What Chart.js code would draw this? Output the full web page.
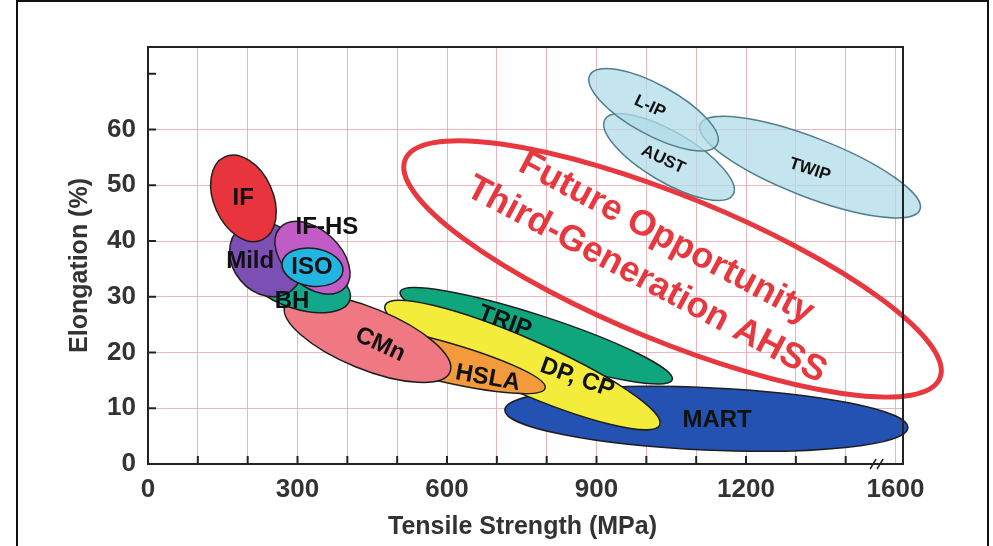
<!DOCTYPE html>
<html>
<head>
<meta charset="utf-8">
<script src="https://cdn.jsdelivr.net/npm/chart.js@4"></script>
<style>
  html, body { margin: 0; padding: 0; background: #fff; }
  #wrap { width: 993px; height: 546px; position: relative; }
</style>
</head>
<body>
<div id="wrap"><canvas id="steelChart"></canvas></div>
<script>
// === Data ===
// each region: major axis from (x1,y1) to (x2,y2) in MPa / %, half width in %
const regionNames = ["MART", "TRIP", "DP, CP", "HSLA", "CMn", "BH", "Mild", "IF-HS", "ISO", "IF", "TWIP", "AUST", "L-IP"];
const regionX1 = [716, 506, 476, 305, 275, 201, 185, 265, 269, 154, 1108, 917, 887];
const regionY1 = [9.7, 30.9, 28.5, 25.0, 28.5, 35.2, 42.4, 42.4, 36.1, 55.1, 60.9, 61.8, 69.8];
const regionX2 = [1525, 1052, 1027, 797, 606, 405, 289, 395, 391, 229, 1549, 1174, 1142];
const regionY2 = [6.5, 15.1, 7.0, 13.6, 16.5, 29.4, 31.2, 31.6, 34.5, 40.2, 45.6, 48.3, 57.3];
const regionHalfWidth = [5.6, 3.7, 4.8, 3.6, 5.5, 4.5, 6.0, 5.0, 3.4, 5.3, 5.3, 4.5, 4.5];

// future third-generation band
const futureX = [516, 1589];
const futureY = [54.6, 15.4];
const futureHalfWidth = 13;

// label anchors
const labelTexts = ["IF", "IF-HS", "Mild", "ISO", "BH", "CMn", "HSLA", "TRIP", "DP, CP", "MART", "L-IP", "AUST", "TWIP"];
const labelX = [191, 359, 205, 329, 289, 466, 682, 716, 861, 1142, 1007, 1034, 1328];
const labelY = [47.6, 42.4, 36.3, 35.2, 29.1, 21.4, 15.4, 25.5, 15.4, 7.9, 64.1, 54.6, 52.8];
const labelAngle = [0, 0, 0, 0, 0, 25, 10, 20, 20, 0, 25, 25, 18];
const futureLines = ["Future Opportunity", "Third-Generation AHSS"];
const futureLineX = [1040, 1000];
const futureLineY = [40.5, 33.0];

const xTickValues = [0, 100, 200, 300, 400, 500, 600, 700, 800, 900, 1000, 1100, 1200, 1300, 1400, 1500];
const xTickLabels = { 0: "0", 300: "300", 600: "600", 900: "900", 1200: "1200", 1500: "1600" };

// === Styles ===
const fills = {
  "MART": "#2452b3", "TRIP": "#10a67d", "DP, CP": "#f3ec3a", "HSLA": "#f29a3c",
  "CMn": "#f07883", "BH": "#14a88b", "Mild": "#7b4fb4", "IF-HS": "#c15bc6",
  "ISO": "#22b5e2", "IF": "#e8343d",
  "TWIP": "rgba(178,220,232,0.75)", "AUST": "rgba(178,220,232,0.75)", "L-IP": "rgba(178,220,232,0.75)"
};
const smallLabels = ["L-IP", "AUST", "TWIP"];

function ellipsePath(ctx, xs, ys, x1, y1, x2, y2, hw) {
  const p1x = xs.getPixelForValue(x1), p1y = ys.getPixelForValue(y1);
  const p2x = xs.getPixelForValue(x2), p2y = ys.getPixelForValue(y2);
  const rx = Math.hypot(p2x - p1x, p2y - p1y) / 2;
  const ry = Math.abs(ys.getPixelForValue(0) - ys.getPixelForValue(hw));
  ctx.beginPath();
  ctx.ellipse((p1x + p2x) / 2, (p1y + p2y) / 2, rx, ry, Math.atan2(p2y - p1y, p2x - p1x), 0, Math.PI * 2);
}

const regionsPlugin = {
  id: "regions",
  afterDatasetsDraw(chart) {
    const { ctx, chartArea: a } = chart;
    const xs = chart.scales.x, ys = chart.scales.y;
    ctx.save();

    // inward ticks
    ctx.strokeStyle = "#222";
    ctx.lineWidth = 2;
    for (let v = 100; v < 1500; v += 100) {
      const px = xs.getPixelForValue(v);
      ctx.beginPath(); ctx.moveTo(px, a.bottom); ctx.lineTo(px, a.bottom - 8); ctx.stroke();
    }
    for (let v = 10; v <= 70; v += 10) {
      const py = ys.getPixelForValue(v);
      ctx.beginPath(); ctx.moveTo(a.left, py); ctx.lineTo(a.left + 8, py); ctx.stroke();
    }
    // axis break
    const bx = xs.getPixelForValue(1455);
    ctx.lineWidth = 1.5;
    [0, 7].forEach(d => {
      ctx.beginPath(); ctx.moveTo(bx + d - 3, a.bottom + 5); ctx.lineTo(bx + d + 3, a.bottom - 5); ctx.stroke();
    });

    // regions
    regionNames.forEach((name, i) => {
      ellipsePath(ctx, xs, ys, regionX1[i], regionY1[i], regionX2[i], regionY2[i], regionHalfWidth[i]);
      ctx.fillStyle = fills[name];
      ctx.fill();
      ctx.lineWidth = 1.5;
      ctx.strokeStyle = smallLabels.includes(name) ? "#4f7f8c" : "#1e1e1e";
      ctx.stroke();
    });

    // future band
    ellipsePath(ctx, xs, ys, futureX[0], futureY[0], futureX[1], futureY[1], futureHalfWidth);
    ctx.strokeStyle = "#e8383f";
    ctx.lineWidth = 5;
    ctx.stroke();

    // labels
    ctx.textAlign = "center";
    ctx.textBaseline = "middle";
    labelTexts.forEach((t, i) => {
      ctx.save();
      ctx.translate(xs.getPixelForValue(labelX[i]), ys.getPixelForValue(labelY[i]));
      ctx.rotate(labelAngle[i] * Math.PI / 180);
      ctx.fillStyle = "#111";
      ctx.font = smallLabels.includes(t) ? "bold 17px 'Liberation Sans', Arial" : "bold 24px 'Liberation Sans', Arial";
      ctx.fillText(t, 0, 0);
      ctx.restore();
    });
    futureLines.forEach((t, i) => {
      ctx.save();
      ctx.translate(xs.getPixelForValue(futureLineX[i]), ys.getPixelForValue(futureLineY[i]));
      ctx.rotate(28 * Math.PI / 180);
      ctx.fillStyle = "#e8383f";
      ctx.font = "bold 36px 'Liberation Sans', Arial";
      ctx.fillText(t, 0, 0);
      ctx.restore();
    });

    // plot frame
    ctx.strokeStyle = "#222";
    ctx.lineWidth = 2;
    ctx.strokeRect(a.left, a.top, a.right - a.left, a.bottom - a.top);

    // axis titles
    ctx.fillStyle = "#333";
    ctx.font = "bold 25px 'Liberation Sans', Arial";
    ctx.fillText("Tensile Strength (MPa)", (a.left + a.right) / 2 - 3, 527);
    ctx.save();
    ctx.translate(80, (a.top + a.bottom) / 2 + 10);
    ctx.rotate(-Math.PI / 2);
    ctx.fillText("Elongation (%)", 0, 0);
    ctx.restore();

    // page frame
    ctx.lineWidth = 2;
    ctx.strokeStyle = "#111";
    ctx.strokeRect(17, 1, 971, 560);
    ctx.restore();
  }
};

const tickFont = { family: "'Liberation Sans', Arial", size: 26, weight: "bold" };

const ctx = document.getElementById("steelChart").getContext("2d");
new Chart(ctx, {
  type: "scatter",
  data: { datasets: [{ data: [], pointRadius: 0 }] },
  plugins: [regionsPlugin],
  options: {
    responsive: true,
    maintainAspectRatio: false,
    animation: false,
    layout: { padding: { top: 47, right: 90, left: 0, bottom: 0 } },
    plugins: { legend: { display: false }, tooltip: { enabled: false } },
    scales: {
      x: {
        type: "linear", min: 0, max: 1515,
        afterBuildTicks: s => { s.ticks = xTickValues.map(v => ({ value: v })); },
        afterFit: s => { s.height = 82; },
        grid: { color: "#eab4bc", lineWidth: 1, drawTicks: false },
        border: { display: false },
        ticks: {
          autoSkip: false, padding: 10, maxRotation: 0,
          color: "#333", font: tickFont,
          callback: v => xTickLabels[v] ?? ""
        }
      },
      y: {
        type: "linear", min: 0, max: 74.8,
        afterFit: s => { s.width = 148; },
        grid: { color: "#eab4bc", lineWidth: 1, drawTicks: false },
        border: { display: false },
        ticks: {
          stepSize: 10, padding: 12,
          color: "#333", font: tickFont,
          callback: v => (v % 10 === 0 ? String(v) : "")
        }
      }
    }
  }
});
</script>
</body>
</html>
